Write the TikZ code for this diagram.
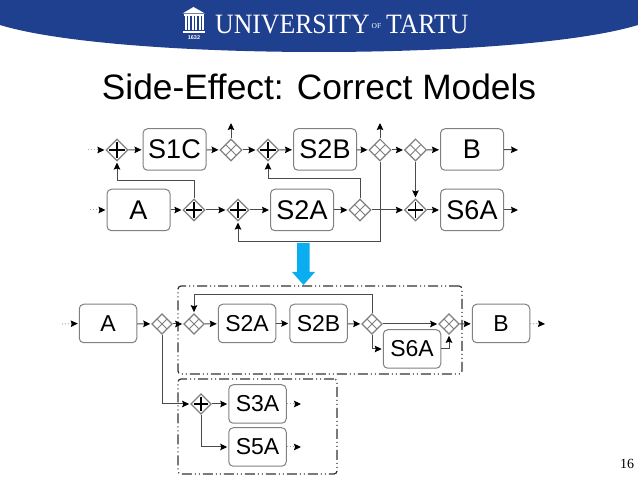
\documentclass[tikz,border=0pt]{standalone}
\usepackage{fontspec}
\usepackage{graphicx}
\setmainfont{Liberation Sans}
\newfontfamily\logofont{Liberation Serif}
\usetikzlibrary{shapes.geometric,arrows.meta,calc}
\definecolor{hdr}{HTML}{1F3F8F}
\definecolor{edgeg}{HTML}{808080}
\definecolor{wire}{HTML}{4A4A4A}
\definecolor{skyb}{HTML}{0AAEF0}
\tikzset{
  x=1pt,y=-1pt,
  taskbox/.style={draw=edgeg,line width=1pt,rounded corners=4.5pt,inner sep=0pt,fill=white,text=black,align=center},
  bigtask/.style={taskbox,minimum width=63pt,minimum height=41.5pt,font=\fontsize{27}{27}\selectfont},
  smalltask/.style={taskbox,minimum width=57.5pt,minimum height=38.5pt,font=\fontsize{23}{23}\selectfont},
  gw/.style={diamond,draw=edgeg,line width=1.1pt,inner sep=0pt,minimum width=22pt,minimum height=22pt,fill=white},
  gwsmall/.style={gw,minimum width=20.5pt,minimum height=20.5pt},
  plusmark/.style={path picture={
    \draw[black,line width=1.8pt] ($(path picture bounding box.west)!.15!(path picture bounding box.east)$)--($(path picture bounding box.west)!.85!(path picture bounding box.east)$);
    \draw[black,line width=1.8pt] ($(path picture bounding box.north)!.15!(path picture bounding box.south)$)--($(path picture bounding box.north)!.85!(path picture bounding box.south)$);}},
  xmark/.style={path picture={
    \draw[edgeg,line width=1pt] ($(path picture bounding box.north west)!.25!(path picture bounding box.south east)$)--($(path picture bounding box.north west)!.75!(path picture bounding box.south east)$);
    \draw[edgeg,line width=1pt] ($(path picture bounding box.north east)!.25!(path picture bounding box.south west)$)--($(path picture bounding box.north east)!.75!(path picture bounding box.south west)$);}},
  flow/.style={draw=wire,line width=1pt,-{Stealth[length=7pt,width=6.5pt,inset=1pt,color=black]},shorten >=1pt},
  loose/.style={draw=edgeg!70,line width=1pt,dotted,-{Stealth[length=7pt,width=6.5pt,inset=1pt,color=black]},shorten >=1pt},
  groupbox/.style={draw=black!80,line width=1.2pt,rounded corners=3pt,inner sep=0pt,
    dash pattern=on 10pt off 3pt on 1pt off 3pt on 1pt off 3pt},
}
\begin{document}
\begin{tikzpicture}
\useasboundingbox (0,0) rectangle (638,478);
% header band
\fill[hdr] (0,0) -- (638,0) -- (638,25) .. controls (520,61) and (118,61) .. (0,25) -- cycle;
% logo
\fill[white] (193.5,7) -- (205,13.5) -- (182.5,13.5) -- cycle;
\fill[white] (183.5,14.5) rectangle (204,16);
\foreach \cx in {184.5,188,191.5,195,198.5,202}{\fill[white] (\cx,16.5) rectangle (\cx+2,30.5);}
\fill[white] (183,31) rectangle (205,33.5);
\node[text=white,inner sep=0pt,font=\bfseries\fontsize{5.5}{5.5}\selectfont] (yr) at (194,38) {1632};
\node[text=white,inner sep=0pt,anchor=base west,font=\logofont\fontsize{28}{28}\selectfont] (uni) at (215,34) {\scalebox{.92}[1]{UNIVERSITY}};
\node[text=white,inner sep=0pt,anchor=base west,font=\logofont\fontsize{7.5}{7.5}\selectfont] (ofw) at (371.5,29) {OF};
\node[text=white,inner sep=0pt,anchor=base west,font=\logofont\fontsize{28}{28}\selectfont] (tar) at (386,34) {\scalebox{.92}[1]{TARTU}};
% title
\node[inner sep=0pt,font=\fontsize{35.3}{36}\selectfont] (title) at (319,87) {Side-Effect: Correct Models};
\node[inner sep=0pt,font=\logofont\fontsize{14}{14}\selectfont] (pg) at (627,464) {16};
% groups
\node[groupbox,minimum width=284pt,minimum height=88pt] (g1) at (320,330) {};
\node[groupbox,minimum width=159pt,minimum height=95pt] (g2) at (257.5,426.5) {};
% ---- upper model
\node[bigtask] (s1c) at (174.5,149.5) {S1C};
\node[bigtask] (s2b) at (325,149.5) {S2B};
\node[bigtask] (bt) at (472,149.5) {B};
\node[bigtask] (at) at (138.5,210) {A};
\node[bigtask] (s2a) at (302,210) {S2A};
\node[bigtask] (s6a) at (472,210) {S6A};
\node[gw,plusmark] (p1) at (117,150) {};
\node[gw,xmark] (x1) at (231,150) {};
\node[gw,plusmark] (p2) at (268,150) {};
\node[gw,xmark] (x2) at (380,150) {};
\node[gw,xmark] (x3) at (415.5,150) {};
\node[gw,plusmark] (p3) at (194,210) {};
\node[gw,plusmark] (p4) at (238,210) {};
\node[gw,xmark] (x4) at (360,210) {};
\node[gw,plusmark] (p5) at (415.5,210) {};
\coordinate (in1) at (88,150);
\coordinate (in2) at (90,210);
\coordinate (up1) at (231,122);
\coordinate (up2) at (380,122);
\coordinate (ou1) at (519,150);
\coordinate (ou2) at (519,210);
\coordinate (f1) at (194,181);
\coordinate (f2) at (360,179);
\coordinate (f3) at (380,242);
\draw[loose] (in1) -- (p1.west);
\draw[loose] (in2) -- (at.west);
\draw[flow] (p1) -- (s1c);
\draw[flow] (s1c) -- (x1);
\draw[flow] (x1) -- (p2);
\draw[flow] (p2) -- (s2b);
\draw[flow] (s2b) -- (x2);
\draw[flow] (x2) -- (x3);
\draw[flow] (x3) -- (bt);
\draw[flow] (at) -- (p3);
\draw[flow] (p3) -- (p4);
\draw[flow] (p4) -- (s2a);
\draw[flow] (s2a) -- (x4);
\draw[flow] (x4) -- (p5);
\draw[flow] (p5) -- (s6a);
\draw[flow] (x1.north) -- (up1);
\draw[flow] (x2.north) -- (up2);
\draw[flow] (x3.south) -- (p5.north);
\draw[flow] (bt.east) -- (ou1);
\draw[flow] (s6a.east) -- (ou2);
\draw[flow] (p3.north) -- (f1) -| (p1.south);
\draw[flow] (x4.north) -- (f2) -| (p2.south);
\draw[flow] (x2.south) -- (f3) -| (p4.south);
% blue arrow
\fill[skyb] (297,243) -- (309.5,243) -- (309.5,272) -- (315,272) -- (303.5,285) -- (292,272) -- (297,272) -- cycle;
% ---- lower model
\node[smalltask] (la) at (108,323.5) {A};
\node[smalltask] (ls2a) at (247,323.5) {S2A};
\node[smalltask] (ls2b) at (318.5,323.5) {S2B};
\node[smalltask] (lb) at (501,323.5) {B};
\node[smalltask] (ls6a) at (412,349) {S6A};
\node[smalltask] (s3a) at (257.5,404) {S3A};
\node[smalltask] (s5a) at (257.5,447) {S5A};
\node[gwsmall,xmark] (d6) at (162,324) {};
\node[gwsmall,xmark] (d7) at (194,324) {};
\node[gwsmall,xmark] (d8) at (372,324) {};
\node[gwsmall,xmark] (d9) at (449,324) {};
\node[gwsmall,plusmark] (p6) at (201,404) {};
\coordinate (in3) at (62,324);
\coordinate (ou3) at (546,324);
\coordinate (ou4) at (302,404);
\coordinate (ou5) at (302,447);
\coordinate (f4) at (372,295);
\draw[loose] (in3) -- (la.west);
\draw[flow] (la) -- (d6);
\draw[flow] (d6) -- (d7);
\draw[flow] (d7) -- (ls2a);
\draw[flow] (ls2a) -- (ls2b);
\draw[flow] (ls2b) -- (d8);
\draw[flow] (d8) -- (d9);
\draw[flow] (d9) -- (lb);
\draw[loose] (lb.east) -- (ou3);
\draw[flow] (d8.north) -- (f4) -| (d7.north);
\draw[flow] (d8.south) |- (ls6a.west);
\draw[flow] (ls6a.east) -| (d9.south);
\draw[flow] (d6.south) |- (p6.west);
\draw[flow] (p6) -- (s3a);
\draw[flow] (p6.south) |- (s5a.west);
\draw[loose] (s3a.east) -- (ou4);
\draw[loose] (s5a.east) -- (ou5);
\end{tikzpicture}
\end{document}
